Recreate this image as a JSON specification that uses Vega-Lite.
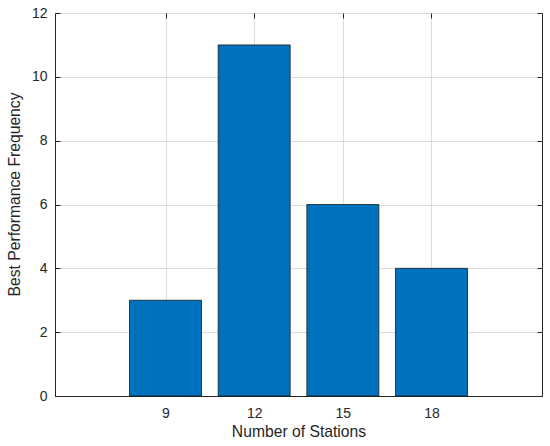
{
  "$schema": "https://vega.github.io/schema/vega-lite/v6.json",
  "width": 487,
  "height": 383,
  "autosize": "none",
  "padding": {"left": 55, "top": 13, "right": 8, "bottom": 50},
  "background": "white",
  "config": {
    "view": {"stroke": "#262626", "strokeWidth": 1},
    "font": "Liberation Sans"
  },
  "data": {
    "values": [
      {"stations": 9, "freq": 3},
      {"stations": 12, "freq": 11},
      {"stations": 15, "freq": 6},
      {"stations": 18, "freq": 4}
    ]
  },
  "layer": [
    {
      "mark": {"type": "bar", "width": 72, "color": "#0072BD", "stroke": "#1a1a1a", "strokeWidth": 0.8},
      "encoding": {
        "x": {
          "field": "stations", "type": "quantitative",
          "scale": {"domain": [5.43, 21.57], "nice": false, "zero": false},
          "axis": {"values": [9, 12, 15, 18], "title": "Number of Stations", "grid": true, "tickSize": -5, "labelPadding": 15, "titlePadding": 4, "labelFlush": false,
            "labelFont": "Liberation Sans", "titleFont": "Liberation Sans", "labelFontSize": 14, "titleFontSize": 15.7, "labelColor": "#262626", "titleColor": "#262626", "titleFontWeight": "normal", "domainColor": "#262626", "tickColor": "#262626", "gridColor": "#dcdcdc"}
        },
        "y": {
          "field": "freq", "type": "quantitative",
          "scale": {"domain": [0, 12], "nice": false},
          "axis": {"values": [0, 2, 4, 6, 8, 10, 12], "title": "Best Performance Frequency", "grid": true, "tickSize": -5, "labelPadding": 13, "titlePadding": 9, "titleY": 181, "labelFlush": false,
            "labelFont": "Liberation Sans", "titleFont": "Liberation Sans", "labelFontSize": 14, "titleFontSize": 15.7, "labelColor": "#262626", "titleColor": "#262626", "titleFontWeight": "normal", "domainColor": "#262626", "tickColor": "#262626", "gridColor": "#dcdcdc"}
        }
      }
    },
    {
      "mark": {"type": "point", "opacity": 0},
      "encoding": {
        "x": {
          "field": "stations", "type": "quantitative",
          "axis": {"orient": "top", "values": [9, 12, 15, 18], "labels": false, "title": null, "grid": false, "tickSize": -5, "domain": false, "tickColor": "#262626"}
        },
        "y": {
          "field": "freq", "type": "quantitative",
          "axis": {"orient": "right", "values": [0, 2, 4, 6, 8, 10, 12], "labels": false, "title": null, "grid": false, "tickSize": -5, "domain": false, "tickColor": "#262626"}
        }
      }
    }
  ],
  "resolve": {"axis": {"x": "independent", "y": "independent"}}
}
